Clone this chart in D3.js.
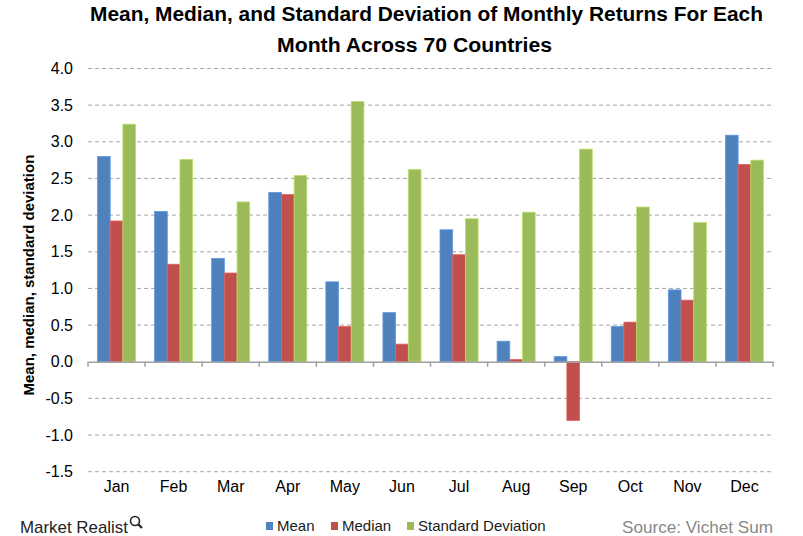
<!DOCTYPE html>
<html>
<head>
<meta charset="utf-8">
<script src="https://cdn.jsdelivr.net/npm/d3@7"></script>
<style>
  body { margin: 0; background: #fff; }
  text { font-family: Arial, "Liberation Sans", sans-serif; }
</style>
</head>
<body>
<div id="chart"></div>
<script>
var svgWidth = 803;
var svgHeight = 536;

// Chart values
var months = ["Jan", "Feb", "Mar", "Apr", "May", "Jun", "Jul", "Aug", "Sep", "Oct", "Nov", "Dec"];
var seriesNames = ["Mean", "Median", "Standard Deviation"];
var meanValues = [2.80, 2.05, 1.41, 2.31, 1.09, 0.67, 1.80, 0.28, 0.07, 0.48, 0.98, 3.09];
var medianValues = [1.92, 1.33, 1.21, 2.28, 0.48, 0.24, 1.46, 0.03, -0.80, 0.54, 0.84, 2.69];
var stdValues = [3.24, 2.76, 2.18, 2.54, 3.55, 2.62, 1.95, 2.04, 2.90, 2.11, 1.90, 2.75];
var yTicks = [-1.5, -1.0, -0.5, 0.0, 0.5, 1.0, 1.5, 2.0, 2.5, 3.0, 3.5, 4.0];
var colors = ["#4F81BD", "#C0504D", "#9BBB59"];

var plot = { left: 88, right: 773, top: 68.5, bottom: 471.7 };

var svg = d3.select("#chart")
  .append("svg")
  .attr("width", svgWidth)
  .attr("height", svgHeight);

// Title
var title = svg.append("g")
  .attr("font-weight", "bold")
  .attr("font-size", 20)
  .attr("text-anchor", "middle")
  .attr("fill", "#000");

title.append("text")
  .attr("x", 426.5)
  .attr("y", 21)
  .attr("textLength", 673)
  .attr("lengthAdjust", "spacingAndGlyphs")
  .text("Mean, Median, and Standard Deviation of Monthly Returns For Each");

title.append("text")
  .attr("x", 414.5)
  .attr("y", 52)
  .attr("textLength", 275)
  .attr("lengthAdjust", "spacingAndGlyphs")
  .text("Month Across 70 Countries");

// Scales
var x0 = d3.scaleBand()
  .domain(months)
  .range([plot.left, plot.right])
  .paddingInner(1 / 3)
  .paddingOuter(1 / 6);

var x1 = d3.scaleBand()
  .domain(seriesNames)
  .range([0, x0.bandwidth()]);

var y = d3.scaleLinear()
  .domain([-1.5, 4.0])
  .range([plot.bottom, plot.top]);

// Gridlines (dashed)
svg.append("g")
  .selectAll("line")
  .data(yTicks.filter(d => d !== 0))
  .enter().append("line")
  .attr("x1", plot.left)
  .attr("x2", plot.right)
  .attr("y1", d => y(d))
  .attr("y2", d => y(d))
  .attr("stroke", "#a6a6a6")
  .attr("stroke-width", 1)
  .attr("stroke-dasharray", "4,3");

// Y axis labels
var leftAxis = d3.axisLeft(y)
  .tickValues(yTicks)
  .tickFormat(d => d.toFixed(1))
  .tickSize(0)
  .tickPadding(15);

var yAxis = svg.append("g")
  .attr("transform", `translate(${plot.left}, 0)`)
  .call(leftAxis);
yAxis.select(".domain").remove();
yAxis.selectAll("text")
  .attr("font-size", 16)
  .attr("font-family", "Arial, 'Liberation Sans', sans-serif")
  .attr("fill", "#000");

// Y axis title
svg.append("text")
  .attr("transform", `translate(34, ${(plot.top + plot.bottom) / 2 + 5}) rotate(-90)`)
  .attr("text-anchor", "middle")
  .attr("font-size", 15)
  .attr("font-weight", "bold")
  .attr("fill", "#000")
  .text("Mean, median, standard deviation");

// Bars
var data = months.map(function(m, i) {
  return { month: m, values: [meanValues[i], medianValues[i], stdValues[i]] };
});

var groups = svg.append("g")
  .selectAll("g")
  .data(data)
  .enter().append("g")
  .attr("transform", d => `translate(${x0(d.month)}, 0)`);

groups.selectAll("rect")
  .data(d => d.values.map((v, i) => ({ key: seriesNames[i], value: v, idx: i })))
  .enter().append("rect")
  .attr("x", d => x1(d.key))
  .attr("width", x1.bandwidth())
  .attr("y", d => y(Math.max(0, d.value)))
  .attr("height", d => Math.abs(y(d.value) - y(0)))
  .attr("fill", d => colors[d.idx])
  .attr("stroke", d => d3.color(colors[d.idx]).brighter(0.5))
  .attr("stroke-width", 0.8);

// Category axis at zero
var bottomAxis = d3.axisBottom(x0).tickSize(0).tickFormat("");
var xAxis = svg.append("g")
  .attr("transform", `translate(0, ${y(0)})`)
  .call(bottomAxis);
xAxis.select(".domain")
  .attr("stroke", "#a0a0a0")
  .attr("stroke-width", 1.5);

// Category boundary ticks
var step = x0.step();
svg.append("g")
  .selectAll("line")
  .data(d3.range(months.length + 1))
  .enter().append("line")
  .attr("x1", i => plot.left + i * step)
  .attr("x2", i => plot.left + i * step)
  .attr("y1", y(0))
  .attr("y2", y(0) + 5)
  .attr("stroke", "#a0a0a0")
  .attr("stroke-width", 1.5);

// Month labels
svg.append("g")
  .selectAll("text")
  .data(months)
  .enter().append("text")
  .attr("x", d => x0(d) + x0.bandwidth() / 2)
  .attr("y", 492)
  .attr("text-anchor", "middle")
  .attr("font-size", 16)
  .attr("fill", "#000")
  .text(d => d);

// Legend
var legendX = [266, 331, 407];
var legend = svg.append("g");
var legendItems = legend.selectAll("g")
  .data(seriesNames)
  .enter().append("g")
  .attr("transform", (d, i) => `translate(${legendX[i]}, 521)`);

legendItems.append("rect")
  .attr("width", 7)
  .attr("height", 8)
  .attr("y", 1)
  .attr("fill", (d, i) => colors[i]);

legendItems.append("text")
  .attr("x", 11)
  .attr("y", 10)
  .attr("font-size", 15)
  .attr("fill", "#1a1a1a")
  .text(d => d);

// Footer: logo text and source
svg.append("text")
  .attr("x", 20)
  .attr("y", 533)
  .attr("font-size", 17)
  .attr("fill", "#222")
  .attr("font-family", "'Open Sans', Arial, sans-serif")
  .attr("textLength", 108)
  .attr("lengthAdjust", "spacingAndGlyphs")
  .text("Market Realist");

var mag = svg.append("g")
  .attr("transform", "translate(135, 521)")
  .attr("fill", "none")
  .attr("stroke", "#222")
  .attr("stroke-width", 1.6);
mag.append("circle").attr("r", 4.5);
mag.append("line")
  .attr("x1", 3.2).attr("y1", 3.2)
  .attr("x2", 7).attr("y2", 7)
  .attr("stroke-width", 2.2);

svg.append("text")
  .attr("x", 622)
  .attr("y", 533)
  .attr("font-size", 17)
  .attr("fill", "#888")
  .attr("font-family", "Roboto, Arial, sans-serif")
  .attr("textLength", 151)
  .attr("lengthAdjust", "spacingAndGlyphs")
  .text("Source: Vichet Sum");
</script>
</body>
</html>
